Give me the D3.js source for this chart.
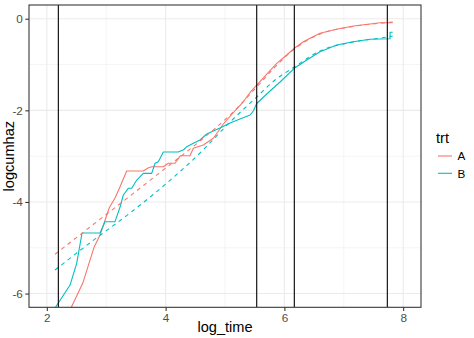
<!DOCTYPE html>
<html>
<head>
<meta charset="utf-8">
<script src="https://cdn.jsdelivr.net/npm/d3@7"></script>
<style>
  html, body { margin: 0; padding: 0; background: #ffffff; }
  svg { display: block; font-family: "Liberation Sans", Arial, Helvetica, sans-serif; }
</style>
</head>
<body>
<svg id="chart" width="474" height="338"></svg>
<script>
// Treatment groups and their colours
const groups = ["A", "B"];
const groupColors = ["#F8766D", "#00BFC4"];

// Axis ticks
const xTicks = [2, 4, 6, 8];
const yTicks = [-6, -4, -2, 0];
const xMinorTicks = [3, 5, 7];
const yMinorTicks = [-5, -3, -1];

// Spline knot positions (log time)
const knots = [2.194, 5.534, 6.167, 7.733];

// Observed log cumulative hazard, group A
const obsTimeA = [2.357, 2.407, 2.604, 2.795, 2.896, 3.052, 3.148, 3.233, 3.345, 3.625, 3.704, 3.766, 3.962, 4.046, 4.159, 4.25, 4.41, 4.467, 4.635, 4.804, 4.972, 5.135, 5.304, 5.422, 5.534, 5.703, 5.871, 6.039, 6.167, 6.319, 6.432, 6.600, 6.881, 7.161, 7.442, 7.610, 7.824];
const obsHazA = [-6.447, -6.316, -5.776, -4.990, -4.722, -4.126, -3.914, -3.667, -3.324, -3.324, -3.259, -3.231, -3.231, -3.156, -3.156, -2.99, -2.99, -2.829, -2.757, -2.610, -2.298, -2.058, -1.818, -1.610, -1.447, -1.207, -0.973, -0.792, -0.645, -0.501, -0.427, -0.318, -0.231, -0.159, -0.115, -0.086, -0.086];

// Observed log cumulative hazard, group B
const obsTimeB = [2.088, 2.138, 2.391, 2.503, 2.593, 2.896, 2.980, 3.148, 3.233, 3.288, 3.372, 3.430, 3.514, 3.625, 3.766, 3.822, 3.877, 3.962, 4.209, 4.298, 4.356, 4.467, 4.580, 4.692, 4.916, 5.085, 5.253, 5.422, 5.477, 5.534, 5.703, 5.927, 6.167, 6.376, 6.600, 6.881, 7.161, 7.442, 7.779, 7.779, 7.824];
const obsHazB = [-6.534, -6.316, -5.814, -5.340, -4.678, -4.678, -4.431, -4.431, -4.111, -3.848, -3.702, -3.702, -3.521, -3.375, -3.375, -3.156, -3.121, -2.910, -2.910, -2.866, -2.794, -2.720, -2.648, -2.517, -2.386, -2.276, -2.189, -2.102, -2.014, -1.851, -1.643, -1.381, -1.082, -0.901, -0.720, -0.573, -0.501, -0.449, -0.436, -0.296, -0.296];

// Fitted spline curves
const fitTime = [2.138, 2.727, 3.401, 4.002, 4.580, 5.085, 5.534, 5.842, 6.167, 6.600, 7.156, 7.733, 7.824];
const fitHazA = [-5.143, -4.547, -3.870, -3.259, -2.669, -2.102, -1.490, -1.054, -0.661, -0.333, -0.169, -0.082, -0.071];
const fitHazB = [-5.486, -4.892, -4.241, -3.608, -2.931, -2.255, -1.709, -1.338, -1.054, -0.704, -0.508, -0.399, -0.377];

const svg = d3.select("#chart");
const panel = { left: 29, top: 5, right: 421, bottom: 307.3 };

const x = d3.scaleLinear().domain([1.7, 8.3]).range([panel.left, panel.right]);
const y = d3.scaleLinear().domain([-6.3, 0.3]).range([panel.bottom, panel.top]);

svg.append("defs").append("clipPath").attr("id", "panel-clip")
  .append("rect")
  .attr("x", panel.left).attr("y", panel.top)
  .attr("width", panel.right - panel.left).attr("height", panel.bottom - panel.top);

// Panel background and grid
svg.append("rect")
  .attr("x", panel.left).attr("y", panel.top)
  .attr("width", panel.right - panel.left).attr("height", panel.bottom - panel.top)
  .attr("fill", "#ffffff");

const grid = svg.append("g");
grid.selectAll(".xminor").data(xMinorTicks).join("line")
  .attr("x1", d => x(d)).attr("x2", d => x(d))
  .attr("y1", panel.top).attr("y2", panel.bottom)
  .attr("stroke", "#EBEBEB").attr("stroke-width", 0.55);
grid.selectAll(".yminor").data(yMinorTicks).join("line")
  .attr("y1", d => y(d)).attr("y2", d => y(d))
  .attr("x1", panel.left).attr("x2", panel.right)
  .attr("stroke", "#EBEBEB").attr("stroke-width", 0.55);
grid.selectAll(".xmajor").data(xTicks).join("line")
  .attr("x1", d => x(d)).attr("x2", d => x(d))
  .attr("y1", panel.top).attr("y2", panel.bottom)
  .attr("stroke", "#EBEBEB").attr("stroke-width", 1.07);
grid.selectAll(".ymajor").data(yTicks).join("line")
  .attr("y1", d => y(d)).attr("y2", d => y(d))
  .attr("x1", panel.left).attr("x2", panel.right)
  .attr("stroke", "#EBEBEB").attr("stroke-width", 1.07);

const plot = svg.append("g").attr("clip-path", "url(#panel-clip)");

const line = d3.line().x(d => x(d[0])).y(d => y(d[1]));
const smooth = d3.line().x(d => x(d[0])).y(d => y(d[1])).curve(d3.curveMonotoneX);

const observed = [d3.zip(obsTimeA, obsHazA), d3.zip(obsTimeB, obsHazB)];
const fitted = [d3.zip(fitTime, fitHazA), d3.zip(fitTime, fitHazB)];

observed.forEach((pts, i) => {
  plot.append("path").attr("d", line(pts))
    .attr("fill", "none").attr("stroke", groupColors[i])
    .attr("stroke-width", 1.1).attr("stroke-linejoin", "round");
});
fitted.forEach((pts, i) => {
  plot.append("path").attr("d", smooth(pts))
    .attr("fill", "none").attr("stroke", groupColors[i])
    .attr("stroke-width", 1.1).attr("stroke-dasharray", "4,4");
});

// Knot markers
plot.selectAll(".knot").data(knots).join("line")
  .attr("x1", d => x(d)).attr("x2", d => x(d))
  .attr("y1", panel.top).attr("y2", panel.bottom)
  .attr("stroke", "#000000").attr("stroke-width", 1.1);

// Panel border
svg.append("rect")
  .attr("x", panel.left).attr("y", panel.top)
  .attr("width", panel.right - panel.left).attr("height", panel.bottom - panel.top)
  .attr("fill", "none").attr("stroke", "#333333").attr("stroke-width", 1.07);

// Axes
const xAxis = d3.axisBottom(x).tickValues(xTicks).tickSize(3.7).tickPadding(2.5).tickFormat(d3.format("d"));
const yAxis = d3.axisLeft(y).tickValues(yTicks).tickSize(3.7).tickPadding(2.5).tickFormat(d => d3.format("d")(d).replace("−", "-"));

const gx = svg.append("g").attr("transform", `translate(0,${panel.bottom})`).call(xAxis);
const gy = svg.append("g").attr("transform", `translate(${panel.left},0)`).call(yAxis);
[gx, gy].forEach(g => {
  g.select(".domain").remove();
  g.selectAll(".tick line").attr("stroke", "#333333").attr("stroke-width", 1.07);
  g.selectAll(".tick text").attr("fill", "#4D4D4D").style("font-size", "11.7px")
    .style("font-family", "'Liberation Sans', Arial, sans-serif");
});

// Axis titles
svg.append("text").attr("x", (panel.left + panel.right) / 2).attr("y", 331.5)
  .attr("text-anchor", "middle").style("font-size", "14.6px").attr("fill", "#000")
  .text("log_time");
svg.append("text")
  .attr("transform", `translate(13.5,${(panel.top + panel.bottom) / 2}) rotate(-90)`)
  .attr("text-anchor", "middle").style("font-size", "14.6px").attr("fill", "#000")
  .text("logcumhaz");

// Legend
const legend = svg.append("g").attr("transform", "translate(436,0)");
legend.append("text").attr("x", 0).attr("y", 143).style("font-size", "14.6px").attr("fill", "#000").text("trt");
groups.forEach((g, i) => {
  const cy = 156 + i * 17.3;
  legend.append("line").attr("x1", 2).attr("x2", 16).attr("y1", cy).attr("y2", cy)
    .attr("stroke", groupColors[i]).attr("stroke-width", 1.1);
  legend.append("text").attr("x", 21.5).attr("y", cy + 4.2).style("font-size", "11.7px")
    .attr("fill", "#000").text(g);
});
</script>
</body>
</html>
